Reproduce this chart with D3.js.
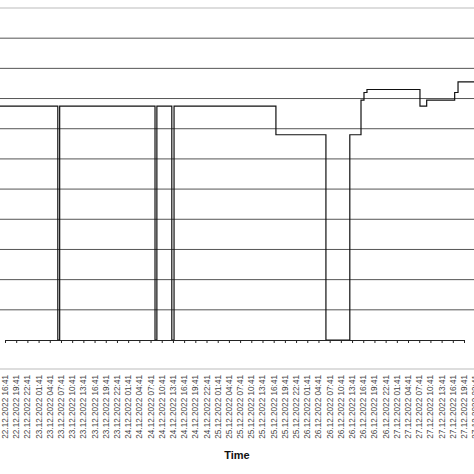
<!DOCTYPE html>
<html>
<head>
<meta charset="utf-8">
<script src="https://cdn.jsdelivr.net/npm/d3@7"></script>
<style>
  body { margin: 0; background: #fff; overflow: hidden; }
  svg { display: block; font-family: "Liberation Sans", Arial, sans-serif; }
</style>
</head>
<body>
<svg id="chart" width="474" height="474"></svg>
<script>
// step series: time and value (value held until next point)
const times = [
  "22.12.2022 15:00", "23.12.2022 06:50", "23.12.2022 07:20",
  "24.12.2022 08:53", "24.12.2022 09:23", "24.12.2022 13:23", "24.12.2022 13:59",
  "25.12.2022 17:17", "26.12.2022 06:41", "26.12.2022 13:05",
  "26.12.2022 16:05", "26.12.2022 16:53", "26.12.2022 17:41",
  "27.12.2022 07:53", "27.12.2022 09:41", "27.12.2022 17:11", "27.12.2022 18:05",
  "28.12.2022 00:00"
];
const values = [7.75, 0, 7.75, 0, 7.75, 0, 7.75, 6.8, 0, 6.8, 7.95, 8.2, 8.3, 7.75, 7.95, 8.2, 8.55, 8.55];
const gridValues = [1, 2, 3, 4, 5, 6, 7, 8, 9, 10, 11];
const tickStart = "22.12.2022 16:41";
const tickCount = 43;

const parse = d3.timeParse("%d.%m.%Y %H:%M");
const fmt = d3.timeFormat("%d.%m.%Y %H:%M");
const data = times.map((t, i) => ({ t: parse(t), v: values[i] }));
const t0 = parse(tickStart);
const ticks = d3.range(tickCount).map(i => d3.timeHour.offset(t0, 3 * i));

const svg = d3.select("#chart");
const axisY = 340;

const x = d3.scaleTime()
  .domain([t0, ticks[41]])
  .range([5, 464]);
const y = d3.scaleLinear()
  .domain([0, 11])
  .range([axisY, 8]);

// horizontal grid
svg.append("g")
  .selectAll("line")
  .data(gridValues)
  .join("line")
  .attr("x1", 0).attr("x2", 474)
  .attr("y1", d => y(d)).attr("y2", d => y(d))
  .attr("stroke", d => d === 11 ? "#bbb" : "#555")
  .attr("stroke-width", 1);

// step line
const line = d3.line()
  .x(d => x(d.t))
  .y(d => y(d.v))
  .curve(d3.curveStepAfter);

svg.append("path")
  .datum(data)
  .attr("fill", "none")
  .attr("stroke", "#111")
  .attr("stroke-width", 1.2)
  .attr("d", line);

// x axis
const axis = svg.append("g")
  .attr("transform", `translate(0,${axisY})`)
  .call(d3.axisBottom(x).tickValues(ticks).tickSize(3).tickFormat(""));
axis.select(".domain").attr("stroke", "#222");
axis.selectAll(".tick line").attr("stroke", "#222");

// separator line above labels
svg.append("line")
  .attr("x1", 0).attr("x2", 474)
  .attr("y1", 369).attr("y2", 369)
  .attr("stroke", "#bbb");

// rotated tick labels
svg.append("g")
  .selectAll("text")
  .data(ticks)
  .join("text")
  .attr("transform", d => `translate(${x(d) + 3},375) rotate(-90)`)
  .attr("text-anchor", "end")
  .attr("font-size", 8.2)
  .attr("fill", "#444")
  .text(d => fmt(d));

svg.append("text")
  .attr("x", 237).attr("y", 459)
  .attr("text-anchor", "middle")
  .attr("font-size", 11)
  .attr("font-weight", "bold")
  .attr("fill", "#111")
  .text("Time");
</script>
</body>
</html>
